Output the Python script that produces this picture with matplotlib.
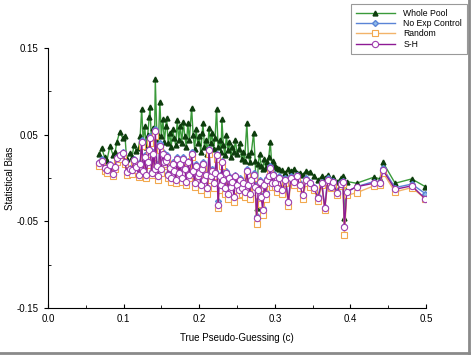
import matplotlib
matplotlib.use("Agg")
import matplotlib.pyplot as plt
from matplotlib.lines import Line2D
from matplotlib.ticker import MultipleLocator

plt.rcParams['font.family'] = ['Liberation Sans', 'DejaVu Sans']

# true pseudo-guessing parameter of each item (sorted)
c_true = [0.068, 0.071, 0.075, 0.078, 0.082, 0.086, 0.089, 0.091, 0.095, 0.099,
          0.102, 0.104, 0.108, 0.111, 0.114, 0.117, 0.120,
          0.122, 0.124, 0.126, 0.128, 0.130, 0.132, 0.134, 0.135, 0.137, 0.139,
          0.141, 0.142, 0.144, 0.146, 0.148, 0.150, 0.152, 0.154, 0.156, 0.157,
          0.159, 0.161, 0.163, 0.165, 0.167, 0.169, 0.171, 0.173, 0.175, 0.177,
          0.179, 0.181, 0.183, 0.185, 0.187, 0.190, 0.192, 0.194, 0.196, 0.198,
          0.200, 0.202, 0.204, 0.205, 0.207, 0.209, 0.211, 0.213, 0.215, 0.217,
          0.219,
          0.221, 0.223, 0.225, 0.227, 0.229, 0.230, 0.232, 0.234, 0.236, 0.238,
          0.240, 0.242, 0.244, 0.246, 0.248, 0.250, 0.252, 0.254, 0.256, 0.258,
          0.260, 0.263, 0.265, 0.267, 0.269, 0.272, 0.274, 0.276, 0.278, 0.280,
          0.282, 0.284, 0.286, 0.288, 0.290, 0.292, 0.294, 0.296, 0.298,
          0.300, 0.303, 0.306, 0.310, 0.314, 0.318, 0.321, 0.325, 0.329, 0.333,
          0.337, 0.341, 0.347, 0.352, 0.357, 0.362, 0.366, 0.370, 0.374, 0.377,
          0.382, 0.387, 0.390, 0.392, 0.395, 0.408, 0.431, 0.439, 0.443, 0.459,
          0.481, 0.499]

whole_pool = [0.028, 0.035, 0.024, 0.020, 0.037, 0.027, 0.030, 0.041, 0.053, 0.046,
              0.048, 0.022, 0.029, 0.024, 0.038, 0.031, 0.035,
              0.048, 0.080, 0.042, 0.060, 0.036, 0.050, 0.070, 0.082, 0.040, 0.058,
              0.045, 0.114, 0.052, 0.038, 0.088, 0.048, 0.068, 0.042, 0.060, 0.069,
              0.040, 0.052, 0.036, 0.056, 0.046, 0.038, 0.067, 0.044, 0.060, 0.040,
              0.065, 0.048, 0.036, 0.063, 0.044, 0.081, 0.050, 0.034, 0.056, 0.040,
              0.048, 0.030, 0.052, 0.063, 0.036, 0.044, 0.028, 0.058, 0.040, 0.052,
              0.034,
              0.046, 0.080, 0.036, 0.044, 0.030, 0.068, 0.038, 0.026, 0.050, 0.032,
              0.042, 0.024, 0.036, 0.030, 0.044, 0.028, 0.034, 0.040, 0.022, 0.030,
              0.020, 0.063, 0.026, 0.018, 0.030, 0.052, 0.020, -0.034, 0.016, 0.028,
              0.014, 0.010, 0.022, 0.012, 0.018, 0.024, 0.042, 0.014, 0.020,
              0.014, 0.012, 0.010, 0.009, 0.006, 0.010, 0.008, 0.010, 0.006, 0.006,
              0.004, 0.008, 0.007, 0.002, -0.002, 0.002, 0.000, 0.004, -0.002, 0.001,
              -0.005, 0.000, 0.002, -0.046, -0.004, -0.006, 0.001, -0.001, 0.018, -0.006,
              -0.001, -0.010]

no_exp_control = [0.018, 0.022, 0.012, 0.010, 0.016, 0.006, 0.014, 0.024, 0.027, 0.030,
                  0.020, 0.008, 0.012, 0.010, 0.022, 0.014, 0.006,
                  0.018, 0.044, 0.010, 0.026, 0.004, 0.020, 0.034, 0.048, 0.008, 0.030,
                  0.012, 0.056, 0.016, 0.004, 0.040, 0.012, 0.030, 0.020, 0.022, 0.026,
                  0.006, 0.014, 0.002, 0.018, 0.010, 0.000, 0.024, 0.008, 0.018, 0.002,
                  0.024, 0.012, -0.002, 0.020, 0.006, 0.030, 0.010, -0.004, 0.016, 0.004,
                  0.008, -0.006, 0.012, 0.018, 0.000, 0.006, -0.010, 0.034, 0.004, 0.010,
                  -0.004,
                  0.008, 0.028, -0.026, 0.004, -0.006, 0.020, 0.000, -0.010, 0.008, -0.016,
                  0.002, -0.008, -0.002, -0.020, 0.004, -0.006, -0.012, 0.000, -0.010, -0.004,
                  -0.014, 0.010, -0.006, -0.016, 0.000, 0.006, -0.008, -0.044, -0.012, -0.002,
                  -0.020, -0.035, -0.006, -0.016, 0.000, 0.004, 0.014, -0.004, 0.006,
                  -0.004, -0.010, 0.002, -0.012, 0.000, -0.026, 0.002, -0.002, 0.004, -0.006,
                  -0.018, 0.000, -0.004, -0.010, -0.021, -0.004, -0.033, 0.000, -0.008, -0.003,
                  -0.015, -0.005, -0.003, -0.055, -0.016, -0.010, -0.004, -0.004, 0.011, -0.011,
                  -0.007, -0.018]

random_sel = [0.014, 0.018, 0.008, 0.006, 0.012, 0.002, 0.010, 0.019, 0.022, 0.026,
              0.016, 0.003, 0.007, 0.005, 0.018, 0.009, 0.001,
              0.013, 0.037, 0.005, 0.020, 0.000, 0.015, 0.028, 0.040, 0.003, 0.024,
              0.006, 0.048, 0.010, -0.002, 0.032, 0.006, 0.024, 0.014, 0.016, 0.020,
              0.000, 0.008, -0.004, 0.012, 0.004, -0.006, 0.018, 0.002, 0.012, -0.004,
              0.018, 0.006, -0.008, 0.014, 0.000, 0.024, 0.004, -0.010, 0.010, -0.002,
              0.002, -0.014, 0.006, 0.012, -0.006, 0.000, -0.018, 0.028, -0.002, 0.004,
              -0.012,
              0.002, 0.022, -0.034, -0.002, -0.014, 0.014, -0.006, -0.018, 0.002, -0.024,
              -0.004, -0.016, -0.008, -0.028, -0.002, -0.014, -0.020, -0.006, -0.018, -0.010,
              -0.022, 0.004, -0.012, -0.024, -0.006, 0.000, -0.016, -0.053, -0.020, -0.008,
              -0.030, -0.043, -0.012, -0.024, -0.006, -0.002, 0.008, -0.010, 0.000,
              -0.010, -0.016, -0.004, -0.018, -0.006, -0.032, -0.004, -0.008, -0.002, -0.012,
              -0.024, -0.006, -0.010, -0.014, -0.026, -0.008, -0.037, -0.004, -0.012, -0.008,
              -0.019, -0.009, -0.007, -0.066, -0.020, -0.017, -0.009, -0.008, 0.006, -0.016,
              -0.011, -0.024]

s_h = [0.017, 0.020, 0.011, 0.009, 0.015, 0.005, 0.013, 0.023, 0.026, 0.029,
       0.019, 0.007, 0.010, 0.009, 0.021, 0.013, 0.004,
       0.016, 0.042, 0.008, 0.024, 0.003, 0.019, 0.032, 0.046, 0.006, 0.028,
       0.010, 0.054, 0.014, 0.002, 0.037, 0.010, 0.028, 0.018, 0.020, 0.024,
       0.004, 0.012, 0.000, 0.016, 0.008, -0.002, 0.022, 0.006, 0.016, 0.000,
       0.022, 0.010, -0.004, 0.018, 0.004, 0.028, 0.008, -0.006, 0.014, 0.002,
       0.006, -0.008, 0.010, 0.016, -0.002, 0.004, -0.012, 0.032, 0.002, 0.008,
       -0.006,
       0.006, 0.026, -0.031, 0.002, -0.008, 0.018, -0.002, -0.012, 0.006, -0.018,
       0.000, -0.010, -0.004, -0.022, 0.002, -0.008, -0.014, -0.002, -0.012, -0.006,
       -0.016, 0.008, -0.008, -0.018, -0.002, 0.004, -0.010, -0.046, -0.014, -0.004,
       -0.022, -0.037, -0.008, -0.018, -0.002, 0.002, 0.012, -0.006, 0.004,
       -0.006, -0.012, 0.000, -0.014, -0.002, -0.028, 0.000, -0.004, 0.002, -0.008,
       -0.020, -0.002, -0.006, -0.012, -0.023, -0.006, -0.035, -0.002, -0.010, -0.005,
       -0.017, -0.007, -0.005, -0.057, -0.016, -0.010, -0.006, -0.006, 0.009, -0.013,
       -0.009, -0.024]

fig = plt.figure(figsize=(4.74, 3.55), dpi=100)
ax = fig.add_axes([0.101, 0.132, 0.798, 0.733])

ax.plot(c_true, whole_pool, color='#3a9a3a', lw=1.0, marker='^', ms=3.5,
        mfc='#0d3d0d', mec='#0d3d0d', label='Whole Pool', zorder=2)
ax.plot(c_true, no_exp_control, color='#5a84d6', lw=1.0, marker='D', ms=3,
        mfc='#8fbbe8', mec='#5a84d6', label='No Exp Control', zorder=3)
ax.plot(c_true, random_sel, color='#f2b36a', lw=1.0, marker='s', ms=4,
        mfc='white', mec='#f2a84e', mew=0.8, label='Random', zorder=4)
ax.plot(c_true, s_h, color='#8e1a94', lw=1.0, marker='o', ms=4.5,
        mfc='white', mec='#a040b0', mew=0.8, label='S-H', zorder=5)

ax.set_xlim(0, 0.5)
ax.set_ylim(-0.15, 0.15)
ax.xaxis.set_major_locator(MultipleLocator(0.1))
ax.xaxis.set_minor_locator(MultipleLocator(0.05))
ax.set_yticks([-0.15, -0.05, 0.05, 0.15])
ax.set_yticks([-0.1, 0.0, 0.1], minor=True)
ax.xaxis.set_major_formatter(plt.FormatStrFormatter('%.1f'))
ax.yaxis.set_major_formatter(plt.FormatStrFormatter('%.2f'))
ax.tick_params(axis='x', which='both', direction='in', labelsize=7, pad=4)
ax.tick_params(axis='y', which='major', direction='out', labelsize=7, length=3)
ax.tick_params(axis='y', which='minor', direction='in', length=2)
ax.tick_params(axis='x', which='major', length=3)
ax.tick_params(axis='x', which='minor', length=2)
for side in ['top', 'right']:
    ax.spines[side].set_visible(False)
ax.set_xlabel('True Pseudo-Guessing (c)', fontsize=7, labelpad=7)
ax.set_ylabel('Statistical Bias', fontsize=7, labelpad=1)

leg = fig.legend(loc='upper right', bbox_to_anchor=(0.986, 0.988), fontsize=6.2,
                 frameon=True, fancybox=False, edgecolor='#808080',
                 handlelength=4.5, handletextpad=1.0, borderpad=0.6,
                 labelspacing=0.12, borderaxespad=0)
leg.get_frame().set_linewidth(0.8)

# grey frame around the picture (right and bottom edges)
fig.add_artist(Line2D([0.99, 0.99], [0.006, 1.0], transform=fig.transFigure,
                      color='#8a8a8a', lw=2))
fig.add_artist(Line2D([0.0, 0.99], [0.006, 0.006], transform=fig.transFigure,
                      color='#8a8a8a', lw=2))

fig.savefig('out.png', dpi=100)
